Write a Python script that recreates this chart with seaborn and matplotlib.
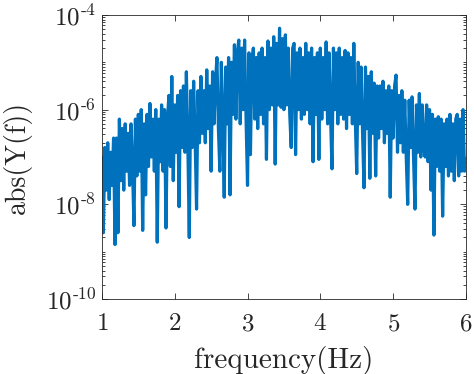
import numpy as np
import pandas as pd
import matplotlib
matplotlib.use("Agg")
import matplotlib.pyplot as plt
from matplotlib.ticker import FixedLocator, LogLocator, NullFormatter, FuncFormatter
import seaborn as sns

# frequency grid (Hz), 0.02 Hz step
freq = np.round(np.arange(1.0, 6.0001, 0.02), 2)

# log10 of |Y(f)|, 10 values per 0.2 Hz
log_amp = [
    -7.0, -8.6, -6.8, -7.7, -6.7, -7.9, -6.9, -7.6, -6.6, -8.85,   # 1.0
    -6.6, -8.6, -6.2, -7.5, -6.4, -7.7, -6.3, -7.3, -6.5, -7.6,    # 1.2
    -6.3, -7.2, -8.45, -6.2, -7.4, -6.1, -7.3, -6.0, -8.55, -6.3,  # 1.4
    -7.8, -6.1, -7.2, -5.87, -7.0, -6.2, -7.3, -6.0, -8.8, -6.2,   # 1.6
    -7.1, -5.9, -7.3, -6.0, -8.5, -6.2, -5.7, -7.2, -5.3, -7.5,    # 1.8
    -5.9, -6.9, -5.7, -8.05, -5.6, -6.8, -5.5, -6.9, -5.2, -6.7,   # 2.0
    -8.7, -5.6, -6.8, -5.4, -6.6, -8.1, -5.6, -6.7, -5.3, -6.5,    # 2.2
    -5.6, -6.7, -5.16, -6.4, -5.5, -7.3, -5.2, -6.3, -5.4, -4.9,   # 2.4
    -6.4, -7.3, -5.0, -6.2, -7.85, -5.1, -6.3, -4.9, -7.8, -5.0,   # 2.6
    -6.1, -4.63, -6.2, -4.8, -4.53, -6.3, -4.7, -6.0, -4.53, -6.2, # 2.8
    -7.6, -4.8, -6.95, -5.0, -4.7, -6.2, -4.9, -6.4, -4.8, -6.1,   # 3.0
    -4.7, -6.3, -4.9, -7.05, -4.55, -6.0, -4.7, -5.9, -4.46, -7.15,  # 3.2
    -4.6, -5.9, -4.28, -5.95, -4.5, -6.0, -4.42, -5.9, -4.7, -6.1, # 3.4
    -6.8, -4.7, -4.6, -6.95, -4.8, -6.0, -4.7, -6.2, -4.9, -6.1,   # 3.6
    -4.6, -6.0, -4.8, -6.3, -4.7, -7.1, -4.9, -6.1, -4.8, -7.05,   # 3.8
    -4.7, -6.2, -4.9, -6.0, -4.57, -6.3, -4.8, -6.1, -7.25, -4.7,  # 4.0
    -6.0, -4.8, -6.3, -4.7, -6.1, -4.9, -6.2, -4.75, -6.4, -4.8,   # 4.2
    -6.1, -4.9, -6.3, -4.6, -6.2, -7.35, -5.0, -6.3, -5.1, -6.5,   # 4.4
    -7.65, -5.1, -6.4, -5.3, -7.45, -5.2, -6.5, -5.44, -7.4, -5.5, # 4.6
    -6.6, -5.5, -6.4, -5.4, -6.7, -5.6, -6.5, -5.5, -7.85, -5.6,   # 4.8
    -6.6, -5.5, -5.27, -6.9, -5.7, -6.7, -5.6, -6.9, -5.8, -7.0,   # 5.0
    -8.0, -5.8, -6.8, -5.73, -7.0, -8.1, -5.9, -6.9, -5.66, -7.0,  # 5.2
    -5.9, -6.8, -7.0, -5.9, -7.1, -6.0, -7.7, -6.1, -8.65, -6.2,   # 5.4
    -7.2, -6.15, -7.3, -6.2, -8.25, -6.3, -7.2, -6.2, -7.4, -6.1,  # 5.6
    -7.3, -6.3, -7.5, -6.2, -6.1, -7.4, -6.2, -7.3, -6.0, -7.3,    # 5.8
    -7.05,                                                         # 6.0
]

x_ticks = [1, 2, 3, 4, 5, 6]
y_ticks = [1e-10, 1e-8, 1e-6, 1e-4]

df = pd.DataFrame({"freq": freq, "amp": 10.0 ** np.array(log_amp)})

sns.set_style("ticks")
plt.rcParams["font.family"] = ["cmr10", "DejaVu Serif"]
plt.rcParams["mathtext.fontset"] = "cm"
plt.rcParams["axes.formatter.use_mathtext"] = True
plt.rcParams["axes.unicode_minus"] = False


def pow10_label(v, pos):
    # MATLAB-like 10^{-n} with a short hyphen in the exponent
    e = int(round(np.log10(v)))
    return r"$10^{\text{-}%d}$" % abs(e)


fig = plt.figure(figsize=(4.74, 3.74), dpi=100)
ax = fig.add_axes([0.215, 0.2005, 0.768, 0.7595])

sns.lineplot(data=df, x="freq", y="amp", ax=ax, color="#0072BD",
             linewidth=2.3, estimator=None, sort=False)

ax.set_yscale("log")
ax.set_xlim(1, 6)
ax.set_ylim(1e-10, 1e-4)
ax.xaxis.set_major_locator(FixedLocator(x_ticks))
ax.yaxis.set_major_locator(FixedLocator(y_ticks))
ax.yaxis.set_major_formatter(FuncFormatter(pow10_label))
ax.yaxis.set_minor_locator(LogLocator(base=10, subs=np.arange(1, 10), numticks=100))
ax.yaxis.set_minor_formatter(NullFormatter())

ax.tick_params(which="both", direction="in", top=True, right=True,
               labelsize=18, colors="#262626", width=0.6)
ax.tick_params(which="major", length=4)
ax.tick_params(which="minor", length=2)
ax.tick_params(axis="x", which="major", pad=10)
ax.tick_params(axis="y", which="major", pad=4)
for s in ax.spines.values():
    s.set_color("#262626")
    s.set_linewidth(0.6)

ax.set_xlabel("frequency(Hz)", fontsize=21, labelpad=8)
ax.set_ylabel("abs(Y(f))", fontsize=20)
ax.yaxis.set_label_coords(-0.193, 0.5)

fig.savefig("out.png", dpi=100)
